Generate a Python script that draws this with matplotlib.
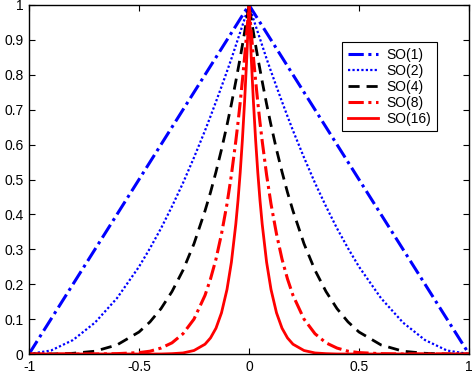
import numpy as np
import matplotlib
matplotlib.use("Agg")
import matplotlib.pyplot as plt

plt.rcParams['font.family'] = ['Liberation Sans', 'DejaVu Sans']

# right half of the symmetric curves
x_half = [0, .01, .02, .03, .04, .05, .06, .08, .10, .125, .15, .175, .20,
          .25, .30, .35, .40, .45, .50, .60, .70, .80, .90, 1.0]
so1 = [1.0, .99, .98, .97, .96, .95, .94, .92, .90, .875, .85, .825, .80,
       .75, .70, .65, .60, .55, .50, .40, .30, .20, .10, 0.0]
so2 = [1.0, .980, .960, .941, .922, .903, .884, .846, .810, .766, .723, .681, .640,
       .563, .490, .423, .360, .303, .250, .160, .090, .040, .010, 0.0]
so4 = [1.0, .961, .922, .885, .849, .815, .781, .716, .656, .586, .522, .463, .410,
       .316, .240, .179, .130, .092, .063, .026, .008, .002, .000, 0.0]
so8 = [1.0, .923, .851, .784, .721, .663, .610, .513, .430, .344, .272, .215, .168,
       .100, .058, .032, .017, .008, .004, .001, 0.0, 0.0, 0.0, 0.0]
so16 = [1.0, .851, .724, .614, .520, .440, .372, .263, .185, .118, .074, .046, .028,
        .010, .003, .001, 0.0, 0.0, 0.0, 0.0, 0.0, 0.0, 0.0, 0.0]

labels = ['SO(1)', 'SO(2)', 'SO(4)', 'SO(8)', 'SO(16)']
xticks = [-1, -0.5, 0, 0.5, 1]
xticklabels = ['-1', '-0.5', '0', '0.5', '1']
yticks = [0, .1, .2, .3, .4, .5, .6, .7, .8, .9, 1]
yticklabels = ['0', '0.1', '0.2', '0.3', '0.4', '0.5', '0.6', '0.7', '0.8', '0.9', '1']


def full(arr):
    a = np.asarray(arr, dtype=float)
    return np.concatenate([a[::-1], a[1:]])


xh = np.asarray(x_half, dtype=float)
x_full = np.concatenate([-xh[::-1], xh[1:]])

fig = plt.figure(figsize=(4.74, 3.74), dpi=100)
ax = fig.add_axes([29/474, 1-354/374, 440/474, 349/374])

styles = [
    dict(color=(0, 0, 1), ls=(0, (5, 1.5, 1, 1.5)), lw=2.2),
    dict(color=(0, 0, 1), ls=(0, (1, 1)), lw=1.6),
    dict(color='black', ls=(0, (4, 2.5)), lw=2.0),
    dict(color=(1, 0, 0), ls=(0, (5, 1.5, 1, 1.5)), lw=2.2),
    dict(color=(1, 0, 0), ls='-', lw=2.0),
]
for ys, lab, st in zip([so1, so2, so4, so8, so16], labels, styles):
    ax.plot(x_full, full(ys), label=lab, **st)

ax.set_xlim(-1, 1)
ax.set_ylim(0, 1)
ax.set_xticks(xticks)
ax.set_xticklabels(xticklabels)
ax.set_yticks(yticks)
ax.set_yticklabels(yticklabels)
ax.tick_params(direction='in', top=True, right=True, length=4, width=0.8,
               labelsize=10, pad=4)
for s in ax.spines.values():
    s.set_linewidth(1.0)

leg = ax.legend(loc='upper right', bbox_to_anchor=(408/440, 312/349),
                fancybox=False, edgecolor='black', framealpha=1,
                fontsize=10, handlelength=2.2, borderpad=0.4,
                labelspacing=0.15, handletextpad=0.6, borderaxespad=0)
leg.get_frame().set_linewidth(0.8)

fig.savefig('out.png', dpi=100)
